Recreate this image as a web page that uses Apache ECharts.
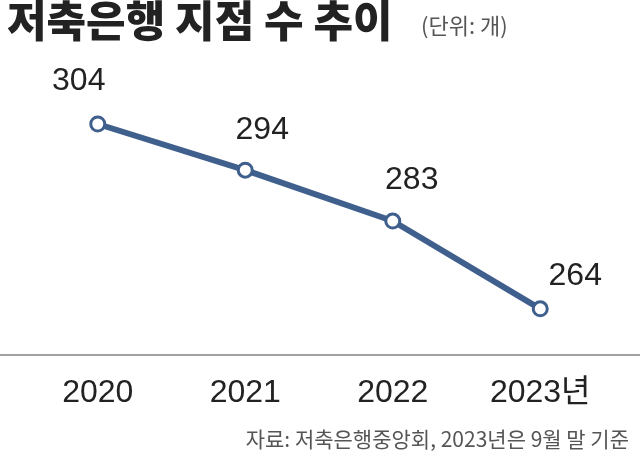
<!DOCTYPE html><html><head><meta charset="utf-8"><script src="https://cdn.jsdelivr.net/npm/echarts@6/dist/echarts.min.js"></script>
<style>body{margin:0}#c{width:640px;height:463px}</style></head><body><div id="c"></div><script>
const categories=['2020','2021','2022','2023년'];
const values=[304,294,283,264];
const labelShift=[[-19,-4],[17,-2],[19,-2],[35,6]];
const chart=echarts.init(document.getElementById('c'));
chart.setOption({
backgroundColor:'#fff',
title:[{text:'저축은행 지점 수 추이',left:2,top:-6,textStyle:{fontFamily:'Noto Sans CJK KR',fontSize:43,fontWeight:900,color:'#222'}},
{text:'(단위: 개)',left:416,top:10,textStyle:{fontFamily:'Noto Sans CJK KR',fontSize:22,fontWeight:'normal',color:'#555'}},
{text:'자료: 저축은행중앙회, 2023년은 9월 말 기준',right:6,top:424,textStyle:{fontFamily:'Noto Sans CJK KR',fontSize:21,fontWeight:'normal',color:'#555'}}],
graphic:[{type:'line',shape:{x1:0,y1:355,x2:640,y2:355},style:{stroke:'#444',lineWidth:1}}],
grid:{left:24,right:26,top:124,bottom:108},
xAxis:{type:'category',data:categories,boundaryGap:true,
axisLine:{show:false},axisTick:{alignWithLabel:true,length:8,lineStyle:{color:'#444'}},
axisLabel:{fontFamily:'Liberation Sans, Noto Sans CJK KR',fontSize:32,color:'#222',margin:22}},
yAxis:{type:'value',min:254,max:304,show:false,splitLine:{show:false}},
series:[{type:'line',data:values.map((v,i)=>({value:v,label:{offset:labelShift[i]}})),symbol:'circle',symbolSize:14,
lineStyle:{color:'#3f5f8d',width:6},itemStyle:{color:'#fff',borderColor:'#3f5f8d',borderWidth:3},
label:{show:true,position:'top',distance:14,fontFamily:'Liberation Sans',fontSize:32,color:'#222'}}]
});
</script></body></html>
